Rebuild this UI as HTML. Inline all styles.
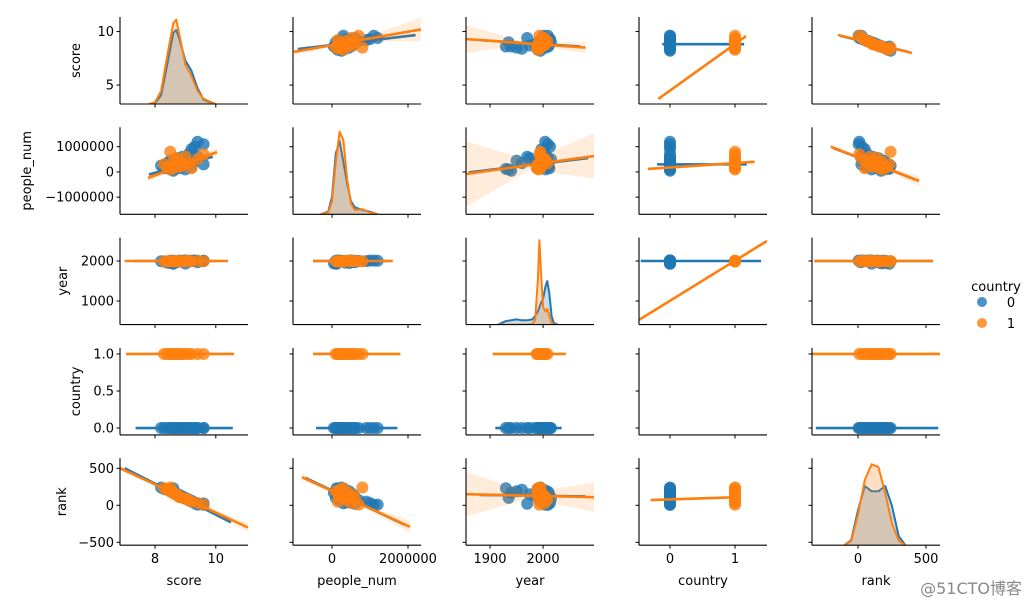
<!DOCTYPE html>
<html><head><meta charset="utf-8"><style>
body{margin:0;background:#fff;}
svg text{font-family:"DejaVu Sans","Liberation Sans",sans-serif;}
</style></head><body>
<svg id="chart" width="1030" height="606" viewBox="0 0 1030 606" xmlns="http://www.w3.org/2000/svg"></svg>
<script>
// ---------- data ----------
const varNames = ["score","people_num","year","country","rank"];
const xTickVals = [[8,10],[0,2000000],[1900,2000],[0,1],[0,500]];
const xTickLabels = [["8","10"],["0","2000000"],["1900","2000"],["0","1"],["0","500"]];
const yTickVals = [[5,10],[-1000000,0,1000000],[1000,2000],[0,0.5,1],[-500,0,500]];
const yTickLabels = [["5","10"],["\u22121000000","0","1000000"],["1000","2000"],["0.0","0.5","1.0"],["\u2212500","0","500"]];
const xDomains = [[6.847,11.06],[-1026000,2342000],[1854.7,2096],[-0.477,1.492],[-338,603]];
const yDomains = [[3.23,11.36],[-1680000,1770000],[410,2585],[-0.093,1.082],[-539,636]];

// points: score, people_num, year, rank
const blueScore  = [8.2,8.3,8.4,8.5,8.5,8.6,8.6,8.7,8.7,8.8,8.8,8.9,8.9,9.0,9.0,9.1,9.1,9.2,9.2,9.3,9.3,9.4,9.4,9.6,9.6,8.6];
const bluePeople = [250000,150000,350000,100000,450000,200000,50000,300000,550000,150000,400000,250000,600000,100000,500000,300000,700000,200000,900000,400000,1000000,600000,1200000,300000,1100000,120000];
const blueYear   = [1995,1990,1960,2005,1950,2010,1940,2000,1975,2012,1985,1998,2008,1935,2015,1992,2003,2010,1997,2006,2013,1970,2004,2001,2009,1930];
const blueRank   = [240,220,210,200,190,180,170,160,150,140,130,120,110,100,90,80,70,60,50,40,30,20,10,25,5,230];
const orangeScore  = [8.3,8.4,8.5,8.5,8.6,8.6,8.7,8.7,8.8,8.8,8.9,9.0,9.1,9.2,9.4,9.6];
const orangePeople = [300000,200000,800000,100000,400000,150000,300000,550000,200000,450000,250000,600000,350000,150000,500000,700000];
const orangeYear   = [1990,1993,1995,1992,1996,1988,1993,2000,1994,2005,1991,1998,2008,1995,2003,1993];
const orangeRank   = [230,210,240,190,175,160,150,140,120,110,100,90,70,50,30,10];

// regression fits: row, col, x0, y0, x1, y1, ciLeft, ciRight
const fitBlue = [
 [0,1,-900000,8.37,2200000,9.67,0,0],[0,2,1880,9.2,2070,8.6,0,0],[0,3,-0.12,8.82,1.14,8.82,0,0],[0,4,-130,9.6,370,8.1,0,0],
 [1,0,7.8,-100000,9.9,600000,0,0],[1,2,1860,-20000,2085,550000,0,0],[1,3,-0.2,300000,1.18,300000,0,0],[1,4,-180,950000,420,-300000,0,0],
 [2,0,7.3,2000,10.0,2000,0,0],[2,1,-500000,2000,1500000,2000,0,0],[2,3,-0.45,2000,1.4,2000,0,0],[2,4,-320,2000,550,2000,0,0],
 [3,0,7.36,0,10.56,0,0,0],[3,1,-420000,0,1720000,0,0,0],[3,2,1910,0,2035,0,0,0],[3,4,-310,0,590,0,0,0],
 [4,0,7.0,500,10.5,-230,0,0],[4,1,-700000,370,1900000,-260,0,0],[4,2,1880,140,2080,120,0,0]
];
const fitOrange = [
 [0,1,-1000000,8.1,2340000,10.2,0.3,1.1],[0,2,1855,9.3,2080,8.5,1.3,0.5],[0,3,-0.18,3.7,1.17,9.58,0.05,0.05],[0,4,-147,9.68,397,8.0,0.1,0.15],
 [1,0,7.77,-240000,10.04,790000,150000,180000],[1,2,1855,-80000,2096,630000,1290000,900000],[1,3,-0.34,120000,1.3,400000,50000,50000],[1,4,-200,1000000,450,-360000,100000,200000],
 [2,0,7.0,2000,10.4,2000,20,20],[2,1,-500000,2000,1600000,2000,20,20],[2,3,-0.48,525,1.49,2500,30,30],[2,4,-320,2000,550,2000,20,20],
 [3,0,7.05,1,10.6,1,0.01,0.01],[3,1,-500000,1,1800000,1,0.01,0.01],[3,2,1905,1,2043,1,0.01,0.01],[3,4,-338,1,603,1,0.01,0.01],
 [4,0,6.85,500,11.06,-300,30,60],[4,1,-790000,380,2050000,-290,40,80],[4,2,1855,150,2096,110,300,200],[4,3,-0.3,70,1.03,110,15,15]
];

// diagonal KDE (relative height 0..1)
const kdeScoreX = [7.8,8.0,8.2,8.4,8.6,8.7,8.8,9.0,9.2,9.4,9.6,9.8,10.0];
const kdeScoreBlue = [0,0.01,0.1,0.45,0.82,0.85,0.75,0.5,0.38,0.18,0.05,0.02,0];
const kdeScoreOrange = [0,0.02,0.15,0.55,0.93,0.97,0.8,0.45,0.32,0.15,0.06,0.03,0];
const kdePeopleX = [-300000,-100000,0,100000,200000,300000,400000,500000,600000,800000,1000000,1200000];
const kdePeopleBlue = [0,0.03,0.2,0.7,0.84,0.6,0.35,0.15,0.08,0.05,0.03,0];
const kdePeopleOrange = [0,0.02,0.15,0.6,0.95,0.85,0.4,0.12,0.05,0.06,0.02,0];
const kdeYearX = [1915,1930,1950,1960,1970,1980,1985,1990,1993,1996,2000,2005,2008,2012,2016,2020,2028];
const kdeYearBlue = [0,0.04,0.06,0.05,0.05,0.06,0.1,0.15,0.2,0.25,0.3,0.45,0.5,0.35,0.1,0.02,0];
const kdeYearOrange = [0,0,0,0,0,0.01,0.05,0.5,0.97,0.6,0.2,0.15,0.18,0.1,0.02,0,0];
const kdeRankX = [-100,-50,0,50,100,150,200,250,300,350];
const kdeRankBlue = [0,0.06,0.4,0.68,0.62,0.62,0.68,0.45,0.1,0];
const kdeRankOrange = [0,0.05,0.35,0.75,0.93,0.9,0.6,0.25,0.05,0];

// ---------- drawing ----------
const NS="http://www.w3.org/2000/svg";
const svg=document.getElementById('chart');
const BLUE="#1f77b4", ORANGE="#ff7f0e";
const L0=120, CW=128, CS=173, T0=17, RH=87, RS=110.3;
function el(tag,attrs,parent){const e=document.createElementNS(NS,tag);for(const k in attrs)e.setAttribute(k,attrs[k]);(parent||svg).appendChild(e);return e;}
function sx(c,v){const d=xDomains[c];return L0+CS*c+(v-d[0])/(d[1]-d[0])*CW;}
function sy(r,v){const d=yDomains[r];return T0+RS*r+RH-(v-d[0])/(d[1]-d[0])*RH;}
const defs=el('defs',{});
const blueData=[blueScore,bluePeople,blueYear,blueScore.map(()=>0),blueRank];
const orangeData=[orangeScore,orangePeople,orangeYear,orangeScore.map(()=>1),orangeRank];
const kdes=[[kdeScoreX,kdeScoreBlue,kdeScoreOrange],[kdePeopleX,kdePeopleBlue,kdePeopleOrange],[kdeYearX,kdeYearBlue,kdeYearOrange],null,[kdeRankX,kdeRankBlue,kdeRankOrange]];

function drawFit(g,f,color,band){
  const [r,c,x0,y0,x1,y1,hl,hr]=f;
  if(band&&(hl>0||hr>0)){
    const xm=(x0+x1)/2, ym=(y0+y1)/2, hm=0.2*Math.min(hl,hr);
    const p=[[x0,y0+hl],[xm,ym+hm],[x1,y1+hr],[x1,y1-hr],[xm,ym-hm],[x0,y0-hl]].map(q=>sx(c,q[0]).toFixed(1)+','+sy(r,q[1]).toFixed(1)).join(' ');
    const b=el('polygon',{points:p,fill:color,'fill-opacity':0.15},g);
    
    
  }
  const ln=el('line',{x1:sx(c,x0),y1:sy(r,y0),x2:sx(c,x1),y2:sy(r,y1),stroke:color,'stroke-width':2.6},g);
  
  
}

for(let r=0;r<5;r++){
  for(let c=0;c<5;c++){
    const left=L0+CS*c, top=T0+RS*r;
    const g=el('g',{});
    
    
    const cp=el('clipPath',{id:'cp'+r+c},defs);
    el('rect',{x:left,y:top,width:CW,height:RH},cp);
    const inner=el('g',{'clip-path':'url(#cp'+r+c+')'},g);
    if(r===c){
      const k=kdes[c];
      if(k){
        [[k[1],BLUE],[k[2],ORANGE]].forEach(([ys,col],i)=>{
          const pts=k[0].map((x,j)=>sx(c,x).toFixed(1)+','+(top+RH-ys[j]*RH).toFixed(1));
          const area=el('polygon',{points:sx(c,k[0][0])+','+(top+RH)+' '+pts.join(' ')+' '+sx(c,k[0][k[0].length-1])+','+(top+RH),fill:col,'fill-opacity':0.25},inner);
          
          
          const ln=el('polyline',{points:pts.join(' '),fill:'none',stroke:col,'stroke-width':2,'stroke-linejoin':'round'},inner);
          
          
        });
      }
    } else {
      [[blueData,BLUE,fitBlue],[orangeData,ORANGE,fitOrange]].forEach(([d,col,fits],i)=>{
        for(let j=0;j<d[0].length;j++){
          const pt=el('circle',{cx:sx(c,d[c][j]).toFixed(1),cy:sy(r,d[r][j]).toFixed(1),r:6,fill:col,'fill-opacity':0.8},inner);
          
          
        }
        fits.filter(f=>f[0]===r&&f[1]===c).forEach(f=>drawFit(inner,f,col,i===1));
      });
    }
    const ya=el('line',{x1:left,y1:top,x2:left,y2:top+RH,stroke:'#000','stroke-width':1.1},g);
    
    
    const xa=el('line',{x1:left,y1:top+RH,x2:left+CW,y2:top+RH,stroke:'#000','stroke-width':1.1},g);
    
    
    yTickVals[r].forEach((v,i)=>{
      const y=sy(r,v);
      el('line',{x1:left-3.5,y1:y,x2:left,y2:y,stroke:'#000','stroke-width':1},g);
      if(c===0){const t=el('text',{x:left-6,y:y+4.5,'font-size':13,'text-anchor':'end',fill:'#000'},g);t.textContent=yTickLabels[r][i];
        
        }
    });
    xTickVals[c].forEach((v,i)=>{
      const x=sx(c,v);
      el('line',{x1:x,y1:top+RH,x2:x,y2:top+RH+3.5,stroke:'#000','stroke-width':1},g);
      if(r===4){const t=el('text',{x:x,y:top+RH+18,'font-size':13,'text-anchor':'middle',fill:'#000'},g);t.textContent=xTickLabels[c][i];
        
        }
    });
  }
}
const yLabelX=[80,31,67,80,66];
for(let r=0;r<5;r++){
  const cy=T0+RS*r+RH/2;
  const t=el('text',{x:yLabelX[r],y:cy,'font-size':13,'text-anchor':'middle',transform:'rotate(-90 '+yLabelX[r]+' '+cy+')',fill:'#000'});
  t.textContent=varNames[r];
  
  
}
for(let c=0;c<5;c++){
  const t=el('text',{x:L0+CS*c+CW/2,y:585,'font-size':13,'text-anchor':'middle',fill:'#000'});
  t.textContent=varNames[c];
  
  
}
const lg=el('g',{});


const lt=el('text',{x:996,y:291,'font-size':13,'text-anchor':'middle',fill:'#000'},lg);lt.textContent='country';
[[BLUE,'0',302],[ORANGE,'1',323]].forEach(([col,lab,y])=>{
  const en=el('g',{},lg);
  
  
  el('circle',{cx:982,cy:y,r:5,fill:col,'fill-opacity':0.8},en);
  const t=el('text',{x:1011,y:y+5,'font-size':13,'text-anchor':'middle',fill:'#000'},en);t.textContent=lab;
});
const wm=el('text',{x:1022,y:594,'font-size':16,'text-anchor':'end',fill:'#888','font-family':'"Liberation Sans","Noto Sans CJK SC",sans-serif'});
wm.textContent='@51CTO博客';


</script>
</body></html>
